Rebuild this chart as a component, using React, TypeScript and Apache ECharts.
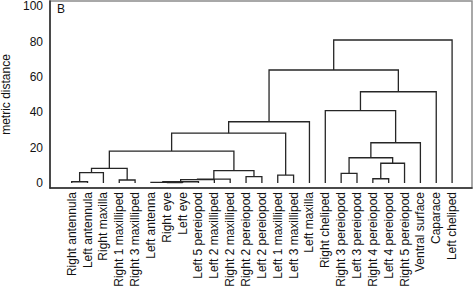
import React, { useEffect, useRef } from "react";
import * as echarts from "echarts";

// Leaf labels, left to right along the bottom axis
const leafNames = [
  "Right antennula",
  "Left antennula",
  "Right maxilla",
  "Right 1 maxilliped",
  "Right 3 maxilliped",
  "Left antenna",
  "Right eye",
  "Left eye",
  "Left 5 pereiopod",
  "Left 2 maxilliped",
  "Right 2 maxilliped",
  "Right 2 pereiopod",
  "Left 2 pereiopod",
  "Left 1 maxilliped",
  "Left 3 maxilliped",
  "Left maxilla",
  "Right cheliped",
  "Right 3 pereiopod",
  "Left 3 pereiopod",
  "Right 4 pereiopod",
  "Left 4 pereiopod",
  "Right 5 pereiopod",
  "Ventral surface",
  "Caparace",
  "Left cheliped",
];

// Merge steps: node ids 0..24 are leaves, merge k creates node 25 + k
const mergeA = [6, 5, 26, 0, 3, 27, 30, 19, 11, 13, 17, 28, 31, 36, 32, 35, 38, 40, 41, 43, 16, 45, 44, 47];
const mergeB = [7, 25, 8, 1, 4, 9, 10, 20, 12, 14, 18, 2, 33, 29, 21, 39, 37, 22, 34, 15, 42, 23, 46, 24];
const mergeHeight = [
  0.2, 0.4, 0.7, 0.7, 1.7, 1.9, 2.2, 2.4, 3.6, 4.5, 5.5, 5.9, 7.0, 8.3, 11.2, 14.3, 18.1, 22.8, 28.2,
  34.7, 41.0, 51.7, 64.0, 81.0,
];

const yTicks = [0, 20, 40, 60, 80, 100];

const FONT = "'Liberation Sans', Arial, Helvetica, sans-serif";

function buildSegments() {
  const nodeX: number[] = leafNames.map((_, i) => i);
  const nodeH: number[] = leafNames.map(() => 0);
  const segs: number[][] = [];
  mergeA.forEach((a, k) => {
    const b = mergeB[k];
    const h = mergeHeight[k];
    segs.push([nodeX[a], nodeH[a], nodeX[b], nodeH[b], h]);
    nodeX.push((nodeX[a] + nodeX[b]) / 2);
    nodeH.push(h);
  });
  return segs;
}

export default function App() {
  const ref = useRef<HTMLDivElement>(null);

  useEffect(() => {
    if (!ref.current) return;
    const chart = echarts.init(ref.current, null, { renderer: "svg" });
    const segments = buildSegments();
    const leafTicks = leafNames.map((_, i) => i);

    chart.setOption({
      animation: false,
      grid: {
        left: 50,
        right: 2,
        top: 1,
        bottom: 100,
        outerBoundsMode: "none",
        containLabel: false,
        show: true,
        borderColor: "#8c8c8c",
        borderWidth: 1.5,
        backgroundColor: "transparent",
      },
      xAxis: {
        type: "value",
        min: -1.369,
        max: 25.256,
        splitLine: { show: false },
        axisLine: { show: true, onZero: false, lineStyle: { color: "#2b2b2b", width: 1.5 } },
        axisTick: { show: false },
        axisLabel: {
          customValues: leafTicks,
          rotate: 90,
          margin: 4,
          color: "#111",
          fontSize: 12,
          fontFamily: FONT,
          formatter: (v: number) => leafNames[Math.round(v)] ?? "",
        },
      },
      yAxis: {
        type: "value",
        min: -2.83,
        max: 103.1,
        name: "metric distance",
        nameLocation: "middle",
        nameRotate: 90,
        nameGap: 29,
        nameTextStyle: { color: "#111", fontSize: 12, fontFamily: FONT },
        splitLine: { show: false },
        axisLine: { show: true, onZero: false, lineStyle: { color: "#2b2b2b", width: 1.5 } },
        axisTick: { show: false },
        axisLabel: {
          customValues: yTicks,
          margin: 7,
          color: "#111",
          fontSize: 12,
          fontFamily: FONT,
        },
      },
      graphic: [
        {
          type: "text",
          left: 57,
          top: 3,
          style: { text: "B", fontSize: 12, fontFamily: FONT, fill: "#111" },
        },
      ],
      series: [
        {
          type: "custom",
          clip: false,
          data: segments,
          encode: { x: [0, 2], y: [1, 3, 4] },
          renderItem: (_params: any, api: any) => {
            const xa = api.value(0);
            const ya = api.value(1);
            const xb = api.value(2);
            const yb = api.value(3);
            const h = api.value(4);
            const points = [
              api.coord([xa, ya]),
              api.coord([xa, h]),
              api.coord([xb, h]),
              api.coord([xb, yb]),
            ];
            return {
              type: "polyline",
              shape: { points },
              style: { stroke: "#262626", lineWidth: 1.3, fill: "none" },
            };
          },
        },
      ],
    });

    return () => chart.dispose();
  }, []);

  return (
    <div
      ref={ref}
      style={{ position: "fixed", left: 0, top: 0, width: 474, height: 288, background: "#fff" }}
    />
  );
}
